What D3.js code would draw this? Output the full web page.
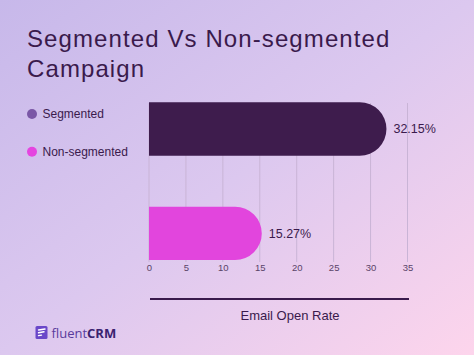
<!DOCTYPE html>
<html><head><meta charset="utf-8">
<script src="https://cdn.jsdelivr.net/npm/d3@7"></script>
<style>html,body{margin:0;padding:0;overflow:hidden;}svg{display:block;}</style>
</head><body>
<script>
const categories = ["Segmented", "Non-segmented"];
const values = [32.15, 15.27];
const valueLabels = ["32.15%", "15.27%"];
const barColors = ["#3e1c4d", "#e245dd"];
const legendColors = ["#7a57a6", "#e545e0"];
const tickValues = [0, 5, 10, 15, 20, 25, 30, 35];
const titleLines = ["Segmented Vs Non-segmented", "Campaign"];
const axisTitle = "Email Open Rate";

const W = 474, H = 355;
const svg = d3.select("body").append("svg").attr("width", W).attr("height", H);
const defs = svg.append("defs");
const g = defs.append("linearGradient").attr("id","bg").attr("x1","0").attr("y1","0").attr("x2","1").attr("y2","1");
g.append("stop").attr("offset","0%").attr("stop-color","#c7b8ea");
g.append("stop").attr("offset","50%").attr("stop-color","#dcc8ef");
g.append("stop").attr("offset","100%").attr("stop-color","#fdd5ec");
svg.append("rect").attr("width",W).attr("height",H).attr("fill","url(#bg)");

const font = "'Liberation Sans', Arial, sans-serif";
const dark = "#3a1a4c";

// Title
svg.append("g").selectAll("text").data(titleLines).join("text")
  .attr("x", 27).attr("y", (d,i)=>46.5 + i*30)
  .attr("font-family", font).attr("font-size", 24).attr("letter-spacing", 1.1).attr("fill", dark)
  .text(d=>d);

// Scales
const x = d3.scaleLinear().domain([0, 35]).range([149, 407.5]);
const bh = 53.4;
const yPos = d3.scalePoint().domain(categories).range([102.3, 206.7]);

// grid
svg.append("g").selectAll("line").data(tickValues).join("line")
  .attr("x1", d=>x(d)).attr("x2", d=>x(d))
  .attr("y1", 103).attr("y2", 262)
  .attr("stroke", "#c9b4d6").attr("stroke-width", 1);

// bars with rounded right end
function barPath(x0, x1, y0, h) {
  const r = Math.min(h/2, 27, x1 - x0);
  return `M${x0},${y0} H${x1 - r} A${r},${r} 0 0 1 ${x1},${y0 + r} V${y0 + h - r} A${r},${r} 0 0 1 ${x1 - r},${y0 + h} H${x0} Z`;
}
svg.append("g").selectAll("path").data(categories).join("path")
  .attr("d", (d,i)=>barPath(x(0), x(values[i]), yPos(d), bh))
  .attr("fill", (d,i)=>barColors[i]);

// value labels
svg.append("g").selectAll("text").data(categories).join("text")
  .attr("x", (d,i)=>x(values[i]) + 7)
  .attr("y", (d)=>yPos(d) + bh/2)
  .attr("dy", "0.35em")
  .attr("font-family", font).attr("font-size", 12.5).attr("fill", dark)
  .text((d,i)=>valueLabels[i]);

// x axis tick labels
const axis = d3.axisBottom(x).tickValues(tickValues).tickSize(0).tickPadding(0);
const ag = svg.append("g").attr("transform", "translate(0,264)").call(axis);
ag.select(".domain").remove();
ag.selectAll("text").attr("font-family", font).attr("font-size", 9.5).attr("fill", "#5a4468").attr("dy", "0.71em");

// axis title line
svg.append("line").attr("x1", 150).attr("x2", 409).attr("y1", 299).attr("y2", 299)
  .attr("stroke", dark).attr("stroke-width", 2);
svg.append("text").attr("x", 290).attr("y", 315).attr("dy", "0.35em").attr("text-anchor","middle")
  .attr("font-family", font).attr("font-size", 13).attr("fill", dark).text(axisTitle);

// legend
const lg = svg.append("g").selectAll("g").data(categories).join("g")
  .attr("transform", (d,i)=>`translate(32,${114 + i*37.7})`);
lg.append("circle").attr("r", 5).attr("fill", (d,i)=>legendColors[i]);
lg.append("text").attr("x", 10.5).attr("dy", "0.35em")
  .attr("font-family", font).attr("font-size", 12).attr("fill", dark).text(d=>d);

// logo
const logo = svg.append("g").attr("transform", "translate(35.5,326)");
logo.append("rect").attr("width", 12).attr("height", 13).attr("rx", 1.5).attr("fill", "#6a47c9");
logo.append("path").attr("d", "M3,4 L9.5,3 M3,6.8 L8.5,5.8 M3,9.6 L6,9.1").attr("stroke", "#fff").attr("stroke-width", 1.4).attr("stroke-linecap","round");
const lt = svg.append("text").attr("x", 51.5).attr("y", 337.5).attr("font-family", "'Open Sans', sans-serif").attr("font-size", 13);
lt.append("tspan").attr("fill", "#5a3c9c").attr("font-weight", 400).text("fluent");
lt.append("tspan").attr("fill", "#3a2270").attr("font-weight", 700).text("CRM");
</script>
</body></html>
